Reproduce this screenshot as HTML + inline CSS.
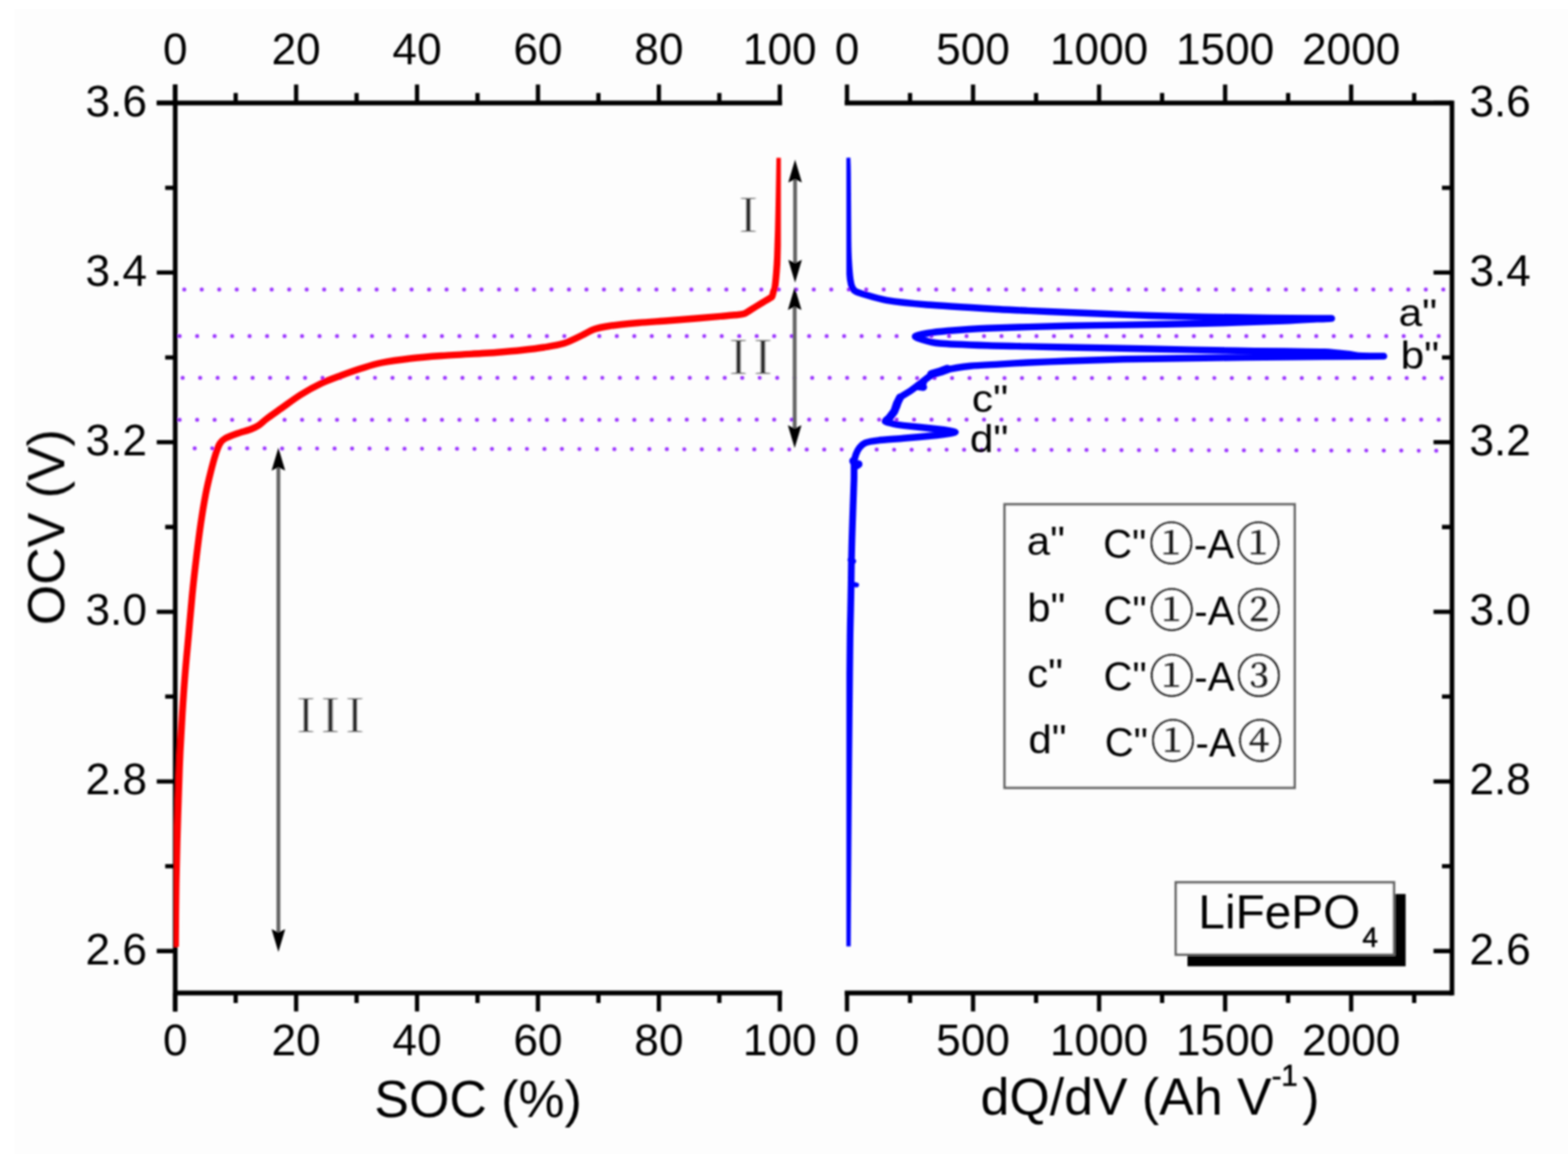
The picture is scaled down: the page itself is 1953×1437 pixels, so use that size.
<!DOCTYPE html>
<html lang="en"><head><meta charset="utf-8"><title>OCV and dQ/dV of LiFePO4</title>
<style>
html,body{margin:0;padding:0;background:#fff;}
body{width:1953px;height:1437px;overflow:hidden;}
svg{display:block;}
text{font-family:"Liberation Sans",sans-serif;fill:#000;}
.tk{font-size:55px;}
.ttl{font-size:64.6px;}
.pk{font-size:48px;}
.lg{font-size:50px;}
.rn{font-family:"Liberation Serif","Noto Serif CJK SC",serif;font-size:65.5px;fill:#303030;stroke:#fdfdfd;stroke-width:1.1px;}
.cn{font-family:"Liberation Serif","Noto Serif CJK SC",serif;font-size:56px;fill:#1a1a1a;stroke:#1a1a1a;stroke-width:0.6px;}
.ss{stroke:#000;stroke-width:0.7px;}
</style></head><body>
<svg width="1953" height="1437" viewBox="0 0 1953 1437">
<rect x="0" y="0" width="1953" height="1437" fill="#ffffff"/>
<rect x="18" y="11" width="1935" height="1426" fill="#fdfdfd"/>
<defs><filter id="soft" x="0" y="0" width="1953" height="1437" filterUnits="userSpaceOnUse"><feGaussianBlur stdDeviation="1"/></filter></defs>
<g filter="url(#soft)">
<g fill="none" stroke="#9a33ff" stroke-width="5" stroke-linecap="round" stroke-dasharray="0.01 21.77">
<path d="M229.5 360.5L1800 360.5"/>
<path d="M223.75 418.6L1795 418.4"/>
<path d="M227.5 470.4L1798 470.8"/>
<path d="M223.75 522.7L1795 522.5"/>
<path d="M242.5 558.2L1791 561.2"/>
</g>
<g fill="none" stroke="#000" stroke-width="5.8" stroke-linecap="butt">
<path d="M218.25 105.25L218.25 1259.5"/>
<path d="M195.25 128.25L974.15 128.25"/>
<path d="M218.25 1236.5L974.15 1236.5"/>
<path d="M1808.5 125.35L1808.5 1239.4"/>
<path d="M1052.1 128.25L1808.5 128.25"/>
<path d="M1052.1 1236.5L1808.5 1236.5"/>
</g>
<g fill="none" stroke="#000" stroke-width="5.3">
<path d="M218.25 128.25V105.25M218.25 1236.5V1259.5M293.55 128.25V115.75M293.55 1236.5V1249M368.85 128.25V105.25M368.85 1236.5V1259.5M444.15 128.25V115.75M444.15 1236.5V1249M519.45 128.25V105.25M519.45 1236.5V1259.5M594.75 128.25V115.75M594.75 1236.5V1249M670.05 128.25V105.25M670.05 1236.5V1259.5M745.35 128.25V115.75M745.35 1236.5V1249M820.65 128.25V105.25M820.65 1236.5V1259.5M895.95 128.25V115.75M895.95 1236.5V1249M971.25 128.25V105.25M971.25 1236.5V1259.5M1055 128.25V105.25M1055 1236.5V1259.5M1133.49 128.25V115.75M1133.49 1236.5V1249M1211.98 128.25V105.25M1211.98 1236.5V1259.5M1290.47 128.25V115.75M1290.47 1236.5V1249M1368.96 128.25V105.25M1368.96 1236.5V1259.5M1447.45 128.25V115.75M1447.45 1236.5V1249M1525.94 128.25V105.25M1525.94 1236.5V1259.5M1604.43 128.25V115.75M1604.43 1236.5V1249M1682.92 128.25V105.25M1682.92 1236.5V1259.5M1761.41 128.25V115.75M1761.41 1236.5V1249M218.25 128.25H195.25M1808.5 128.25H1785.5M218.25 233.85H205.75M1808.5 233.85H1796M218.25 339.45H195.25M1808.5 339.45H1785.5M218.25 445.05H205.75M1808.5 445.05H1796M218.25 550.65H195.25M1808.5 550.65H1785.5M218.25 656.25H205.75M1808.5 656.25H1796M218.25 761.85H195.25M1808.5 761.85H1785.5M218.25 867.45H205.75M1808.5 867.45H1796M218.25 973.05H195.25M1808.5 973.05H1785.5M218.25 1078.65H205.75M1808.5 1078.65H1796M218.25 1184.25H195.25M1808.5 1184.25H1785.5"/>
</g>
<defs><clipPath id="cl"><rect x="217" y="0" width="755.6" height="1437"/></clipPath><clipPath id="cr"><rect x="1054.2" y="0" width="898.8" height="1437"/></clipPath></defs>
<g clip-path="url(#cl)"><path d="M218.6 1179C218.65 1172.5 218.77 1153.17 218.9 1140C219.03 1126.83 219.12 1115.17 219.4 1100C219.68 1084.83 220.1 1067.33 220.6 1049C221.1 1030.67 221.79 1008.17 222.4 990C223.01 971.83 223.48 956.67 224.25 940C225.02 923.33 225.96 906.67 227 890C228.04 873.33 229.17 856.67 230.5 840C231.83 823.33 233.5 806.67 235 790C236.5 773.33 237.92 755.83 239.5 740C241.08 724.17 242.75 709.58 244.5 695C246.25 680.42 248.04 665.83 250 652.5C251.96 639.17 254.17 625.83 256.25 615C258.33 604.17 260.42 595.83 262.5 587.5C264.58 579.17 266.88 570.83 268.75 565C270.62 559.17 271.88 555.62 273.75 552.5C275.62 549.38 276.46 548.33 280 546.25C283.54 544.17 289.58 541.96 295 540C300.42 538.04 307.92 536.25 312.5 534.5C317.08 532.75 319.17 531.71 322.5 529.5C325.83 527.29 327.92 524.71 332.5 521.25C337.08 517.79 342.92 513.75 350 508.75C357.08 503.75 366.67 496.46 375 491.25C383.33 486.04 391.67 481.46 400 477.5C408.33 473.54 416.67 470.62 425 467.5C433.33 464.38 441.67 461.38 450 458.75C458.33 456.12 464.58 453.83 475 451.75C485.42 449.67 500 447.71 512.5 446.25C525 444.79 535.42 444.04 550 443C564.58 441.96 588.33 440.71 600 440C611.67 439.29 611.67 439.42 620 438.75C628.33 438.08 640.42 437.04 650 436C659.58 434.96 668.75 433.92 677.5 432.5C686.25 431.08 694.58 430 702.5 427.5C710.42 425 718.75 420.42 725 417.5C731.25 414.58 734.17 411.96 740 410C745.83 408.04 750.83 407.08 760 405.75C769.17 404.42 782.92 403.08 795 402C807.08 400.92 820 400.22 832.5 399.25C845 398.28 859.15 397.09 870 396.2C880.85 395.31 890.1 394.55 897.6 393.9C905.1 393.25 910.2 392.82 915 392.3C919.8 391.78 923.07 391.88 926.4 390.8C929.73 389.72 931.07 388.17 935 385.8C938.93 383.43 946.17 378.93 950 376.6C953.83 374.27 956.08 372.98 958 371.8C959.92 370.62 960.6 370.97 961.5 369.5C962.4 368.03 962.78 364.98 963.4 363C964.02 361.02 964.58 361.63 965.2 357.6C965.82 353.57 966.58 345.07 967.1 338.8C967.62 332.53 967.9 328.97 968.3 320C968.7 311.03 969.12 299.17 969.5 285C969.88 270.83 970.3 249.75 970.6 235C970.9 220.25 971.18 202.92 971.3 196.5" fill="none" stroke="#ff0000" stroke-width="8.4" stroke-linejoin="round" stroke-linecap="butt"/></g>
<g clip-path="url(#cr)" fill="none" stroke="#0000ff" stroke-linejoin="round" stroke-linecap="butt">
<path d="M1055 196.5C1055.07 198.66 1055.46 202.93 1055.6 215C1055.74 227.07 1056.04 287.17 1056.2 300C1056.36 312.83 1056.67 319.4 1057 325C1057.33 330.6 1058.47 344.15 1059 348C1059.53 351.85 1060.75 356.3 1061.5 358C1062.25 359.7 1063.71 361.61 1065.4 362.6C1067.09 363.59 1071.5 365.18 1076 366.5C1080.5 367.82 1094.78 372.38 1104 373.9C1113.22 375.42 1138.84 378.2 1155 379.5C1171.16 380.8 1227.92 384.14 1242.5 385C1257.08 385.86 1269.79 386.43 1280 386.9C1290.21 387.37 1318.33 388.52 1330 389C1341.67 389.48 1367.98 390.53 1380 391C1392.02 391.47 1419 392.58 1433 393C1447 393.42 1482.85 394.26 1500 394.6C1517.15 394.94 1563.67 395.69 1580 395.9C1596.33 396.11 1630.82 396.32 1640 396.4C1649.18 396.48 1658.7 396.48 1658.7 396.6C1658.7 396.72 1646.85 397.05 1640 397.4C1633.15 397.75 1616.33 398.97 1600 399.6C1583.67 400.23 1523.33 402.22 1500 402.8C1476.67 403.38 1419.83 404.25 1400 404.6C1380.17 404.95 1349.83 405.32 1330 405.8C1310.17 406.28 1247.5 408.03 1230 408.75C1212.5 409.47 1188.75 411.27 1180 412C1171.25 412.73 1159.67 414.21 1155 415C1150.33 415.79 1140.88 417.88 1140 418.75C1139.12 419.62 1144 421.48 1147.5 422.5C1151 423.52 1160.38 426.59 1170 427.5C1179.62 428.41 1217.17 429.85 1230 430.3C1242.83 430.75 1268.33 431.14 1280 431.4C1291.67 431.66 1312.15 432.14 1330 432.5C1347.85 432.86 1408.38 434 1433 434.5C1457.62 435 1521.52 436.45 1541 436.8C1560.48 437.15 1587.28 437.34 1600 437.5C1612.72 437.66 1640.67 437.79 1650 438.2C1659.33 438.61 1675.1 440.44 1680 441C1684.9 441.56 1688.5 442.72 1692 443C1695.5 443.28 1706.33 443.34 1710 443.4C1713.67 443.46 1724.67 443.46 1723.5 443.5C1722.33 443.54 1714.41 443.58 1700 443.7C1685.59 443.82 1623.33 444.25 1600 444.5C1576.67 444.75 1523.33 445.47 1500 445.8C1476.67 446.13 1419.83 446.87 1400 447.3C1380.17 447.73 1344 449.01 1330 449.5C1316 449.99 1290.03 451.02 1280 451.5C1269.97 451.98 1252.31 453.11 1244 453.6C1235.69 454.09 1216.56 454.85 1208.8 455.7C1201.04 456.55 1183.35 459.44 1177.5 460.9C1171.65 462.36 1162.36 466.25 1158.7 468.2C1155.04 470.15 1149.03 475.41 1146.1 477.6C1143.17 479.79 1136.52 484.94 1133.6 487C1130.68 489.06 1123.05 492.99 1121.1 495.3C1119.15 497.61 1118.12 504.25 1116.9 506.8C1115.68 509.36 1112.3 515.13 1110.6 517.2C1108.9 519.27 1102.14 523.29 1102.3 524.5C1102.46 525.71 1109.32 526.98 1112 527.6C1114.68 528.22 1118.88 529.03 1125.3 529.8C1131.72 530.57 1160.27 533.43 1167 534.2C1173.73 534.97 1180.32 535.94 1183 536.4C1185.68 536.86 1190 537.7 1190 538.1C1190 538.5 1185.68 539.34 1183 539.8C1180.32 540.25 1173.73 541.3 1167 542C1160.27 542.7 1133.82 545.06 1125.3 545.8C1116.78 546.53 1099.52 547.65 1094 548.3C1088.48 548.95 1080.75 550.31 1078 551.4C1075.25 552.49 1071.8 555.9 1070.4 557.6C1069 559.3 1066.76 563.89 1066 566C1065.24 568.11 1064.17 572.13 1063.9 575.7C1063.63 579.27 1063.85 590.51 1063.7 596.6C1063.55 602.69 1062.89 619.38 1062.6 627.9C1062.31 636.42 1061.44 661.32 1061.2 669.6C1060.96 677.88 1060.63 692.07 1060.5 698.9C1060.37 705.73 1060.22 721.09 1060.1 728.1C1059.98 735.11 1059.65 751.72 1059.5 759C1059.35 766.28 1058.95 781.05 1058.8 790.5C1058.65 799.95 1058.4 821.39 1058.2 840C1058 858.61 1057.33 924.33 1057.1 950C1056.87 975.67 1056.4 1033.34 1056.2 1060C1056 1086.66 1055.49 1164.67 1055.4 1178.5" stroke-width="8.4"/>
<path d="M1062.5 574L1066.5 580L1069.5 578" stroke-width="9.5" stroke-linecap="round"/>
<path d="M1062 727.5L1067 728.5" stroke-width="6" stroke-linecap="round"/>
<path d="M1059 697L1063 699" stroke-width="6.5" stroke-linecap="round"/>
<path d="M1180 459.5L1172 462.5L1160 466" stroke-width="10.5" stroke-linecap="round"/>
<path d="M1150 476L1143 481L1150 482" stroke-width="9.5" stroke-linecap="round"/>
<path d="M1121 495L1117 503L1114 512L1108 520" stroke-width="10" stroke-linecap="round"/>
</g>
<path d="M990.3 222.3V328.5" stroke="#646464" stroke-width="4.8" fill="none"/>
<path d="M990.3 198.8L981.8 227.3L990.3 223.3L998.8 227.3Z" fill="#000"/>
<path d="M990.3 352L981.8 323.5L990.3 327.5L998.8 323.5Z" fill="#000"/>
<path d="M989.8 381.1V534.5" stroke="#646464" stroke-width="4.8" fill="none"/>
<path d="M989.8 357.6L981.3 386.1L989.8 382.1L998.3 386.1Z" fill="#000"/>
<path d="M989.8 558L981.3 529.5L989.8 533.5L998.3 529.5Z" fill="#000"/>
<path d="M346.75 581V1162" stroke="#646464" stroke-width="4.8" fill="none"/>
<path d="M346.75 557.5L338.25 586L346.75 582L355.25 586Z" fill="#000"/>
<path d="M346.75 1185.5L338.25 1157L346.75 1161L355.25 1157Z" fill="#000"/>
<rect x="1251.25" y="628" width="361.25" height="353" fill="#fdfdfd" stroke="#666666" stroke-width="3.2"/>
<rect x="1479" y="1113.25" width="271.75" height="90" fill="#000"/>
<rect x="1464.5" y="1098.75" width="271.75" height="90" fill="#fdfdfd" stroke="#666666" stroke-width="3.2"/>
</g>
<g filter="url(#soft)">
<g class="tk" text-anchor="middle">
<text x="218.25" y="80">0</text>
<text x="218.25" y="1314.2">0</text>
<text x="368.85" y="80">20</text>
<text x="368.85" y="1314.2">20</text>
<text x="519.45" y="80">40</text>
<text x="519.45" y="1314.2">40</text>
<text x="670.05" y="80">60</text>
<text x="670.05" y="1314.2">60</text>
<text x="820.65" y="80">80</text>
<text x="820.65" y="1314.2">80</text>
<text x="971.25" y="80">100</text>
<text x="971.25" y="1314.2">100</text>
<text x="1055" y="80">0</text>
<text x="1055" y="1314.2">0</text>
<text x="1211.98" y="80">500</text>
<text x="1211.98" y="1314.2">500</text>
<text x="1368.96" y="80">1000</text>
<text x="1368.96" y="1314.2">1000</text>
<text x="1525.94" y="80">1500</text>
<text x="1525.94" y="1314.2">1500</text>
<text x="1682.92" y="80">2000</text>
<text x="1682.92" y="1314.2">2000</text>
</g>
<g class="tk" text-anchor="end">
<text x="183" y="144.65">3.6</text>
<text x="183" y="355.85">3.4</text>
<text x="183" y="567.05">3.2</text>
<text x="183" y="778.25">3.0</text>
<text x="183" y="989.45">2.8</text>
<text x="183" y="1200.65">2.6</text>
</g>
<g class="tk" text-anchor="start">
<text x="1830.2" y="144.65">3.6</text>
<text x="1830.2" y="355.85">3.4</text>
<text x="1830.2" y="567.05">3.2</text>
<text x="1830.2" y="778.25">3.0</text>
<text x="1830.2" y="989.45">2.8</text>
<text x="1830.2" y="1200.65">2.6</text>
</g>
<text class="ttl" text-anchor="middle" transform="translate(80 656.5) rotate(-90)">OCV (V)</text>
<text class="ttl" text-anchor="middle" x="595.5" y="1391">SOC (%)</text>
<text class="ttl" text-anchor="start" x="1221.3" y="1387.5">dQ/dV (Ah V<tspan class="ss" font-size="36.5" dx="0" dy="-36">-1</tspan><tspan dx="5.5" dy="36">)</tspan></text>
<text class="rn" transform="translate(919.2 288.8) scale(1.17 1)" letter-spacing="4.3">I</text>
<text class="rn" transform="translate(906.9 465.5) scale(1.17 1)" letter-spacing="4.3">II</text>
<text class="rn" transform="translate(368.2 911.8) scale(1.17 1)" letter-spacing="4.3">III</text>
<text class="pk" transform="translate(1742 405.8) scale(1.1 1)">a&quot;</text>
<text class="pk" transform="translate(1744.5 458.7) scale(1.1 1)">b&quot;</text>
<text class="pk" transform="translate(1210.5 512.5) scale(1.1 1)">c&quot;</text>
<text class="pk" transform="translate(1208 562.5) scale(1.1 1)">d&quot;</text>
<text class="lg" transform="translate(1279 691) scale(1.04 1)">a&quot;</text>
<text class="lg"><tspan x="1374" y="695">C&quot;</tspan><tspan class="cn" x="1430.9" y="696.9">①</tspan><tspan x="1487" y="695">-A</tspan><tspan class="cn" x="1539.4" y="696.9">①</tspan></text>
<text class="lg" transform="translate(1279.5 774.25) scale(1.04 1)">b&quot;</text>
<text class="lg"><tspan x="1374.5" y="778.25">C&quot;</tspan><tspan class="cn" x="1431.4" y="780.15">①</tspan><tspan x="1487.5" y="778.25">-A</tspan><tspan class="cn" x="1539.9" y="780.15">②</tspan></text>
<text class="lg" transform="translate(1279.5 856) scale(1.04 1)">c&quot;</text>
<text class="lg"><tspan x="1374.5" y="860">C&quot;</tspan><tspan class="cn" x="1431.4" y="861.9">①</tspan><tspan x="1487.5" y="860">-A</tspan><tspan class="cn" x="1539.9" y="861.9">③</tspan></text>
<text class="lg" transform="translate(1281 937.5) scale(1.04 1)">d&quot;</text>
<text class="lg"><tspan x="1376" y="941.5">C&quot;</tspan><tspan class="cn" x="1432.9" y="943.4">①</tspan><tspan x="1489" y="941.5">-A</tspan><tspan class="cn" x="1541.4" y="943.4">④</tspan></text>
<text x="1492.6" y="1155.9" font-size="59.5">LiFePO<tspan class="ss" font-size="34.5" dx="2.6" dy="23.5">4</tspan></text>
</g>
</svg>
</body></html>
